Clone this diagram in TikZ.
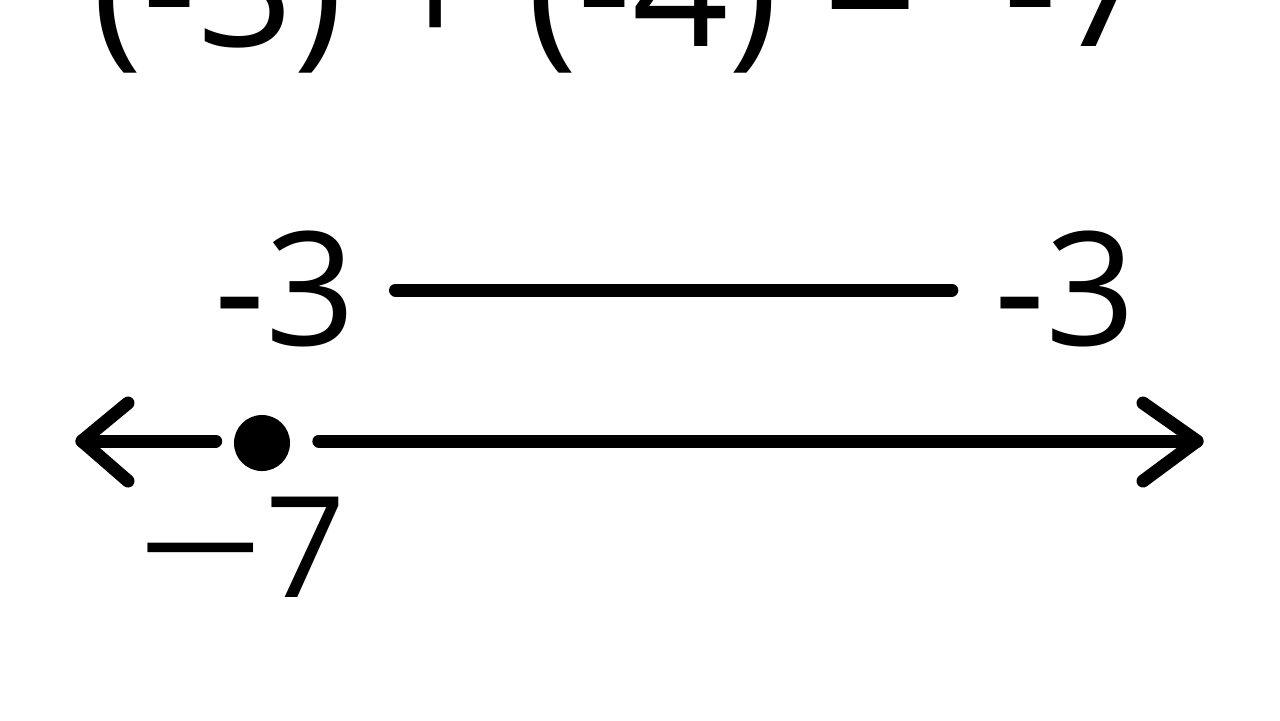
\documentclass[tikz,border=0pt]{standalone}
\usepackage{fontspec}
\setmainfont{Open Sans}
\begin{document}
\begin{tikzpicture}[x=0.01cm,y=-0.01cm, line cap=round, line join=round,
  heavy/.style={line width=3.7pt},
  bigtext/.style={font=\fontsize{48}{48}\selectfont, inner sep=0pt, anchor=base west},
  midtext/.style={font=\fontsize{45}{45}\selectfont, inner sep=0pt, anchor=base west},
  handtext/.style={font=\fontsize{40}{40}\selectfont, inner sep=0pt, anchor=base west}]
\useasboundingbox[fill=white] (0,0) rectangle (1280,720);
% equation at the top, mostly cut off as in the reference
\node[bigtext] (eq) at (92,46) {(-3) + (-4) =\kern24pt-7};
% segment labels
\node[midtext] (m1) at (214,345) {-3};
\node[midtext] (m2) at (994,345) {-3};
\draw[heavy, shorten <=11pt, shorten >=12pt] (m1.east |- 0,290) -- (m2.west |- 0,290);
% number line
\coordinate (L) at (82,441);
\coordinate (R) at (1197,441);
\node[circle, fill=black, inner sep=0pt, minimum size=56*0.2845pt] (dot) at (262,443) {};
\draw[heavy, shorten >=5pt] (L) -- (dot.west |- L);
\draw[heavy, shorten <=8pt] (dot.east |- R) -- (R);
\draw[heavy] (128,403) -- (L) -- (128,481);
\draw[heavy] (1143,403) -- (R) -- (1143,481);
% value label
\node[handtext] (v) at (136,597) {\scalebox{1.6}[1]{−}\kern0pt 7};
\end{tikzpicture}
\end{document}
